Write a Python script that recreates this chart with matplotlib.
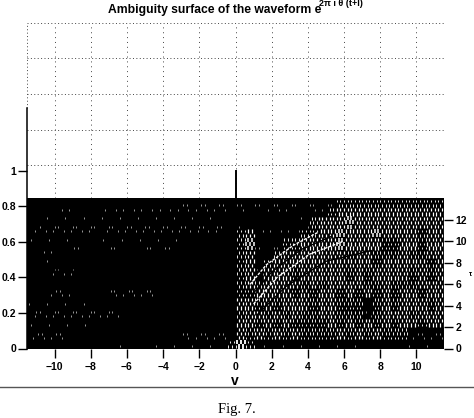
import numpy as np
import matplotlib
matplotlib.use('Agg')
import matplotlib.pyplot as plt

plt.rcParams['font.family'] = ['Liberation Sans', 'DejaVu Sans']

# Axis ticks
v_ticks = [-10, -8, -6, -4, -2, 0, 2, 4, 6, 8, 10]
v_labels = ['\u221210', '\u22128', '\u22126', '\u22124', '\u22122', '0', '2', '4', '6', '8', '10']
z_ticks = [0, 0.2, 0.4, 0.6, 0.8, 1]
z_labels = ['0', '0.2', '0.4', '0.6', '0.8', '1']
tau_ticks = [0, 2, 4, 6, 8, 10, 12]

# Back wall grid
wall_z = [1.03, 1.23, 1.43, 1.63, 1.83]

# Surface outline and the central peak
surface_v = [-11.5, 11.5]
surface_top = [0.845, 0.845]
peak_v = 0
peak_z = 1.0

# Arcs of the mesh right of the peak
arc1_v = [0.8, 1.7, 3.2, 4.6]
arc1_z = [0.36, 0.47, 0.58, 0.655]
arc2_v = [1.0, 2.3, 4.1, 5.9]
arc2_z = [0.25, 0.40, 0.53, 0.60]
dark1_v = [0.9, 2.0, 3.6, 5.3]
dark1_z = [0.30, 0.43, 0.555, 0.63]
dark2_v = [1.2, 2.8, 5.0, 7.5]
dark2_z = [0.19, 0.35, 0.49, 0.55]

# How much paper shows through the mesh, read by eye, top row first.
# Half unit columns of v, -11.5 to 0
left_light = [
    "00000000000000101111110",
    "00011000111111111111110",
    "01111111111111111111110",
    "11111110111111111111100",
    "10101100111011111000000",
    "01100000000000000000000",
    "00100000000000000000000",
    "00111000000000000000000",
    "01000000010000000000000",
    "00111000011111000000000",
    "11111111010100000000000",
    "11111111110000000000000",
    "11111111000000000000000",
    "11110000000000000111110",
    "00000000001001111111112",
]
# Half unit columns of v, 0 to 11.5
right_light = [
    "10111111111222222222222",
    "10011100112333333333333",
    "10000001233343333333333",
    "23111112233433343333233",
    "24101223333433332233233",
    "23002333333323322232233",
    "23023333333333323333323",
    "23133323333323233332323",
    "23233332323333223222333",
    "22333323233232323233233",
    "33232333233222123233323",
    "23323232233222123332333",
    "33232322223232323233233",
    "32323232222323232221111",
    "52111111111111001001111",
]

light = np.hstack([
    [[int(c) for c in row] for row in left_light],
    [[int(c) for c in row] for row in right_light],
])

fig = plt.figure(figsize=(4.74, 4.18), dpi=100)
ax = fig.add_axes([26.5 / 474, 69.5 / 418, 417.5 / 474, 327.5 / 418])
ax.set_xlim(-11.55, 11.52)
ax.set_ylim(0, 1.84)

# Dotted wall grid
for z in wall_z:
    ax.plot([-11.5, 11.5], [z, z], color='#444444', lw=0.7, ls=(0, (1, 2.5)))
for v in v_ticks:
    ax.plot([v, v], [surface_top[0], wall_z[-1]], color='#444444', lw=0.7, ls=(0, (1, 4)))
ax.plot([-11.5, -11.5], [1.35, wall_z[-1]], color='#444444', lw=0.7, ls=(0, (1, 2.5)))

# Surface as black mesh with paper showing through
ax.fill_between(surface_v, 0, surface_top, color='black', lw=0, zorder=3)
ax.plot([peak_v, peak_v], [surface_top[0], peak_z], color='black', lw=1.4, zorder=3)

mesh_v, mesh_z = np.meshgrid(np.arange(-11.4, 11.45, 0.2), np.arange(0.012, 0.84, 0.024))
# every other mesh row sits half a step over, as on the slanted wires
mesh_v[1::2] += 0.1
col = np.clip(((mesh_v + 11.5) / 0.5).astype(int), 0, light.shape[1] - 1)
row = np.clip(((0.845 - mesh_z) / (0.845 / light.shape[0])).astype(int), 0, light.shape[0] - 1)
level = light[row, col].astype(float)
# the faintest level only opens a few holes in the mesh
i, j = np.indices(level.shape)
level[(level == 1) & ((i * 7 + j * j) % 5 != 0)] = 0
show = level > 0
ax.scatter(mesh_v[show], mesh_z[show], s=(0.9 + 0.5 * level[show]) ** 2, marker='|', color='white',
           linewidths=0.2 + 0.22 * level[show], zorder=4)

# Light and dark arcs over the mesh
ax.plot(arc1_v, arc1_z, color='white', lw=1, ls=(0, (2, 1)), zorder=5)
ax.plot(arc2_v, arc2_z, color='white', lw=1, ls=(0, (2, 1)), zorder=5)
ax.plot(dark1_v, dark1_z, color='black', lw=1, zorder=5)
ax.plot(dark2_v, dark2_z, color='black', lw=1, zorder=5)

# Axes
for side in ['top', 'right', 'bottom']:
    ax.spines[side].set_visible(False)
ax.spines['left'].set_bounds(0, 1.35)
ax.spines['left'].set_linewidth(1.1)
ax.set_xticks(v_ticks)
ax.set_xticklabels(v_labels, fontweight='bold', fontsize=7.5)
ax.set_yticks(z_ticks)
ax.set_yticklabels(z_labels, fontweight='bold', fontsize=7.5)
ax.tick_params(axis='x', length=6.5, width=1, pad=3.5)
ax.tick_params(axis='y', length=6.5, width=1, pad=1)
ax.set_xlabel('v', fontweight='bold', fontsize=10, labelpad=1.5)

ax2 = ax.twinx()
ax2.set_ylim(0, 14 * 1.84 / 0.845)
for side in ['top', 'right', 'bottom', 'left']:
    ax2.spines[side].set_visible(False)
ax2.set_yticks(tau_ticks)
ax2.set_yticklabels([str(t) for t in tau_ticks], fontweight='bold', fontsize=7.5)
ax2.tick_params(axis='y', length=6.5, width=1, pad=2)

# Title with exponent
fig.text(108 / 474, 1 - 10 / 418, 'Ambiguity surface of the waveform e', fontsize=8.7, fontweight='bold',
         ha='left', va='center')
fig.text(319 / 474, 1 - 4 / 418, '2\u03c0 i \u03b8 (t+l)', fontsize=6.5, fontweight='bold', ha='left', va='center')
fig.text(471 / 474, 1 - 275 / 418, '\u03c4', fontsize=5, fontweight='bold', ha='center', va='center')

# Rule and caption of the page
fig.add_artist(plt.Line2D([0, 1], [1 - 387 / 418, 1 - 387 / 418], color='#555555', lw=1))
fig.text(237 / 474, 1 - 409 / 418, 'Fig. 7.', fontsize=10.5, family='Liberation Serif', ha='center', va='center')

fig.savefig('out.png', dpi=100)
